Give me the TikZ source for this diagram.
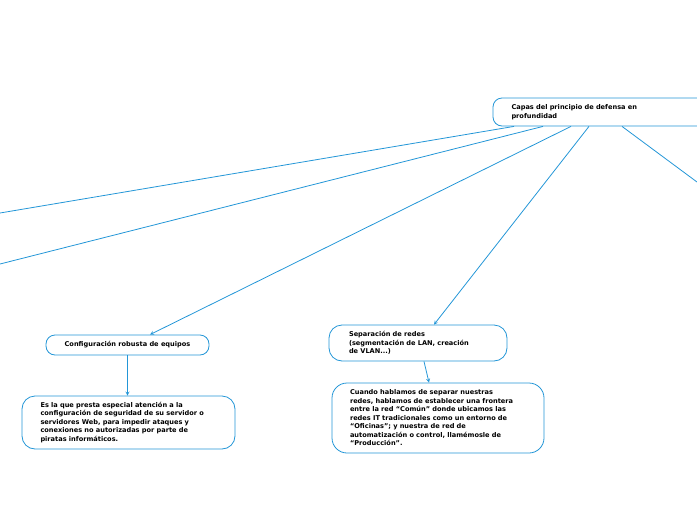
\documentclass[tikz,border=0pt]{standalone}
\usepackage{fontspec}
\setmainfont{DejaVu Sans}
\usetikzlibrary{positioning}
\definecolor{line}{RGB}{35, 150, 215}

\begin{document}
\begin{tikzpicture}[
   x=1pt, y=-1pt,
   topic/.style={rectangle, rounded corners=9, draw=line, fill=white, line width=0.8,
                 font=\bfseries\fontsize{6.6}{8.5}\selectfont, align=left, inner sep=0},
   link/.style={->, >=stealth, draw=line, line width=0.8}
  ]
  \useasboundingbox (0, 0) rectangle (697, 520);

  \node (R) at (601.5, 112) [topic, minimum width=217, minimum height=28, text width=180] {Capas del principio de defensa en\\profundidad};

  \node (C) at (127.5, 345) [topic, minimum width=163, minimum height=20, align=center] {Configuración robusta de equipos};
  \node (CD) at (128.5, 422.5) [topic, minimum width=213, minimum height=53, rounded corners=13, text width=176] {Es la que presta especial atención a la\\configuración de seguridad de su servidor o\\servidores Web, para impedir ataques y\\conexiones no autorizadas por parte de\\piratas informáticos.};

  \node (S) at (418, 343) [topic, minimum width=178, minimum height=36, rounded corners=13, text width=138] {Separación de redes\\(segmentación de LAN, creación\\de VLAN...)};
  \node (SD) at (438, 418) [topic, minimum width=212, minimum height=70, rounded corners=15, text width=176] {Cuando hablamos de separar nuestras\\redes, hablamos de establecer una frontera\\entre la red “Común” donde ubicamos las\\redes IT tradicionales como un entorno de\\“Oficinas”; y nuestra de red de\\automatización o control, llamémosle de\\“Producción”.};

  % free ends off the page
  \coordinate (L1) at (0, 213);
  \coordinate (L2) at (0, 264);
  \coordinate (R1) at (697, 182);

  \draw[draw=line, line width=0.8] (R.south -| 514, 0) -- (L1);
  \draw[draw=line, line width=0.8] (R.south -| 543, 0) -- (L2);
  \draw[draw=line, line width=0.8] (R.south -| 622, 0) -- (R1);
  \draw[link] (R.south -| 571, 0) -- (C.north -| 150, 0);
  \draw[link] (R.south -| 589, 0) -- (S.north -| 434, 0);
  \draw[link] (C.south) -- (CD.north -| C.south);
  \draw[link] (S.south -| 424, 0) -- (SD.north -| 429, 0);
\end{tikzpicture}
\end{document}
